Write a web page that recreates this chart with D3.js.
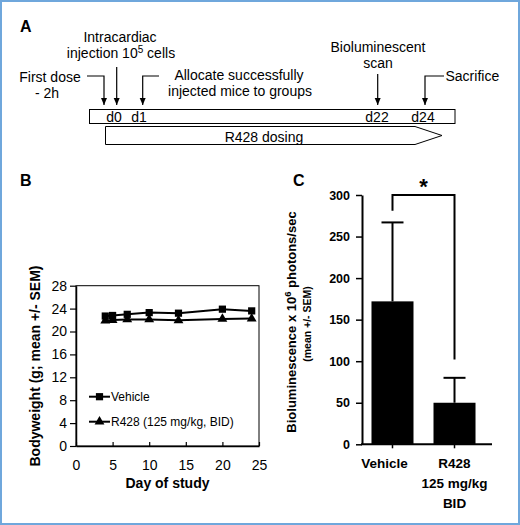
<!DOCTYPE html>
<html><head><meta charset="utf-8">
<script src="https://cdn.jsdelivr.net/npm/d3@7"></script>
<style>body{margin:0;background:#fff}svg{display:block}text{font-family:"Liberation Sans",Arial,sans-serif}</style>
</head><body>
<script>
// ---- data ----
const timelineDays = ["d0","d1","d22","d24"];
const days = [4,5,7,10,14,20,24];
const vehicleWeight = [22.7,22.8,23.0,23.3,23.2,23.9,23.6];
const r428Weight = [21.9,22.0,22.1,22.1,21.95,22.2,22.25];
const weightTicks = [0,4,8,12,16,20,24,28];
const dayTicks = [0,5,10,15,20,25];
const groups = ["Vehicle","R428"];
const groupLabels = [["Vehicle"],["R428","125 mg/kg","BID"]];
const lumMean = [172,50];
const lumUpper = [267,80];
const lumTicks = [0,50,100,150,200,250,300];
const bracket = [281,300,300,102]; // left leg bottom, top, top, right leg bottom

const W=520,H=525;
const svg=d3.select("body").append("svg").attr("width",W).attr("height",H);
svg.append("rect").attr("x",1).attr("y",1).attr("width",W-2).attr("height",H-2)
  .attr("fill","#fff").attr("stroke","#6fa7dc").attr("stroke-width",2);

const FS=14;
function txt(g,x,y,s,opt={}){
  return g.append("text").attr("x",x).attr("y",y).text(s)
   .attr("font-size",opt.size||FS).attr("font-weight",opt.bold?"bold":"normal")
   .attr("text-anchor",opt.anchor||"start").attr("fill","#000");
}
// panel letters
txt(svg,20,32,"A",{bold:true,size:16});
txt(svg,20,186,"B",{bold:true,size:16});
txt(svg,293,186,"C",{bold:true,size:16});

// ---- Panel A ----
const A=svg.append("g");
const dayX=d3.scaleOrdinal().domain(timelineDays).range([114,139,377,423]);
A.append("rect").attr("x",89.5).attr("y",109.5).attr("width",365.5).attr("height",14)
 .attr("fill","#fff").attr("stroke","#000").attr("stroke-width",1);
timelineDays.forEach(d=>txt(A,dayX(d),121.5,d,{anchor:"middle"}));
// dosing arrow
A.append("path").attr("d","M105.5,126.5H415L442,135.5L415,144.5H105.5Z")
 .attr("fill","#fff").attr("stroke","#000").attr("stroke-width",1);
txt(A,264,141.5,"R428 dosing",{anchor:"middle"});
function arrow(pts){
  A.append("path").attr("d",d3.line()(pts)).attr("fill","none").attr("stroke","#000").attr("stroke-width",1.2);
  const [x,y]=pts[pts.length-1];
  A.append("path").attr("d",`M${x-3},${y-7}L${x+3},${y-7}L${x},${y}Z`).attr("fill","#000");
}
arrow([[87,76],[104,76],[104,105]]);
arrow([[116.7,67],[116.7,105]]);
arrow([[159,76],[142.7,76],[142.7,105]]);
arrow([[377.7,74],[377.7,105]]);
arrow([[444,76],[425,76],[425,105]]);
txt(A,50,82,"First dose",{anchor:"middle"});
txt(A,47,98,"- 2h",{anchor:"middle"});
txt(A,120,42,"Intracardiac",{anchor:"middle"});
const inj=txt(A,121,58,"injection 10",{anchor:"middle"});
inj.append("tspan").attr("font-size",10).attr("dy",-5).text("5");
inj.append("tspan").attr("dy",5).text(" cells");
txt(A,239,80,"Allocate successfully",{anchor:"middle"});
txt(A,240,96,"injected mice to groups",{anchor:"middle"});
txt(A,378,52,"Bioluminescent",{anchor:"middle"});
txt(A,378,68,"scan",{anchor:"middle"});
txt(A,445.5,81,"Sacrifice");

// ---- Panel B ----
const B=svg.append("g");
const bx=d3.scaleLinear().domain([0,25]).range([76,259]);
const by=d3.scaleLinear().domain([0,28]).range([446,285.7]);
B.append("rect").attr("x",bx(0)).attr("y",by(28)).attr("width",bx(25)-bx(0)).attr("height",by(0)-by(28))
 .attr("fill","none").attr("stroke","#000").attr("stroke-width",1);
const yaB=B.append("g").attr("transform",`translate(${bx(0)},0)`)
 .call(d3.axisLeft(by).tickValues(weightTicks).tickSize(6).tickPadding(3).tickSizeOuter(0));
const xaB=B.append("g").attr("transform",`translate(0,${by(0)})`)
 .call(d3.axisBottom(bx).tickValues(dayTicks).tickSize(-4).tickPadding(14).tickSizeOuter(0));
[yaB,xaB].forEach(a=>{a.selectAll("text").attr("font-size",14).attr("font-family","Liberation Sans, Arial").attr("fill","#000");
 a.select(".domain").attr("stroke-width",1.5);a.selectAll(".tick line").attr("stroke-width",1.2);});
txt(B,(bx(0)+bx(25))/2,488,"Day of study",{anchor:"middle",bold:true});
B.append("text").attr("transform",`translate(40,366) rotate(-90)`).attr("text-anchor","middle")
 .attr("font-size",14).attr("font-weight","bold").text("Bodyweight (g; mean +/- SEM)");
const lineGen=d3.line().x((d,i)=>bx(days[i])).y(d=>by(d));
const series=[{v:vehicleWeight,sym:d3.symbolSquare,size:52,name:"Vehicle"},
              {v:r428Weight,sym:d3.symbolTriangle,size:42,name:"R428 (125 mg/kg, BID)"}];
series.forEach((s,k)=>{
  B.append("path").attr("d",lineGen(s.v)).attr("fill","none").attr("stroke","#000").attr("stroke-width",2);
  B.selectAll(null).data(s.v).join("path")
   .attr("transform",(d,i)=>`translate(${bx(days[i])},${by(d)})`)
   .attr("d",d3.symbol(s.sym,s.size)).attr("fill","#000");
  const ly=396.7+k*25;
  B.append("line").attr("x1",89).attr("x2",110).attr("y1",ly).attr("y2",ly).attr("stroke","#000").attr("stroke-width",2);
  B.append("path").attr("transform",`translate(99.5,${ly})`).attr("d",d3.symbol(s.sym,s.size)).attr("fill","#000");
  txt(B,111,ly+4.5,s.name,{size:12});
});

// ---- Panel C ----
const C=svg.append("g");
const cx=d3.scaleBand().domain(groups).range([362,485]).paddingInner(0.3226).paddingOuter(0.153);
const cy=d3.scaleLinear().domain([0,300]).range([444.3,195]);
const yaC=C.append("g").attr("transform",`translate(362,0)`)
 .call(d3.axisLeft(cy).tickValues(lumTicks).tickSize(6).tickPadding(6).tickSizeOuter(0));
yaC.selectAll("text").attr("font-size",12.5).attr("font-weight","bold").attr("font-family","Liberation Sans, Arial").attr("fill","#000");
yaC.select(".domain").attr("stroke-width",2);yaC.selectAll(".tick line").attr("stroke-width",1.5);
C.selectAll(null).data(groups).join("rect")
 .attr("x",d=>cx(d)).attr("width",cx.bandwidth())
 .attr("y",(d,i)=>cy(lumMean[i])).attr("height",(d,i)=>cy(0)-cy(lumMean[i])).attr("fill","#000");
groups.forEach((g,i)=>{
  const c=cx(g)+cx.bandwidth()/2;
  C.append("line").attr("x1",c).attr("x2",c).attr("y1",cy(lumMean[i])).attr("y2",cy(lumUpper[i])).attr("stroke","#000").attr("stroke-width",2);
  C.append("line").attr("x1",c-11).attr("x2",c+11).attr("y1",cy(lumUpper[i])).attr("y2",cy(lumUpper[i])).attr("stroke","#000").attr("stroke-width",2);
  C.append("line").attr("x1",c).attr("x2",c).attr("y1",cy(0)).attr("y2",cy(0)+4).attr("stroke","#000").attr("stroke-width",1.5);
  groupLabels[i].forEach((l,j)=>txt(C,c-(i===0?8:0),468+j*20,l,{anchor:"middle",bold:true,size:13.5}));
});
C.append("line").attr("x1",361).attr("x2",492).attr("y1",cy(0)).attr("y2",cy(0)).attr("stroke","#000").attr("stroke-width",2);
// significance bracket
const c0=cx(groups[0])+cx.bandwidth()/2, c1=cx(groups[1])+cx.bandwidth()/2;
C.append("path").attr("d",d3.line()([[c0,cy(bracket[0])],[c0,cy(bracket[1])],[c1,cy(bracket[2])],[c1,cy(bracket[3])]]))
 .attr("fill","none").attr("stroke","#000").attr("stroke-width",2);
txt(C,(c0+c1)/2,194,"*",{anchor:"middle",bold:true,size:22});
const yl=C.append("text").attr("transform","translate(296,322) rotate(-90)").attr("text-anchor","middle")
 .attr("font-size",13).attr("font-weight","bold").text("Bioluminescence x 10");
yl.append("tspan").attr("font-size",9.5).attr("dy",-5).text("6");
yl.append("tspan").attr("dy",5).text(" photons/sec");
C.append("text").attr("transform","translate(311,324) rotate(-90)").attr("text-anchor","middle")
 .attr("font-size",10.5).attr("font-weight","bold").text("(mean +/- SEM)");
</script>
</body></html>
